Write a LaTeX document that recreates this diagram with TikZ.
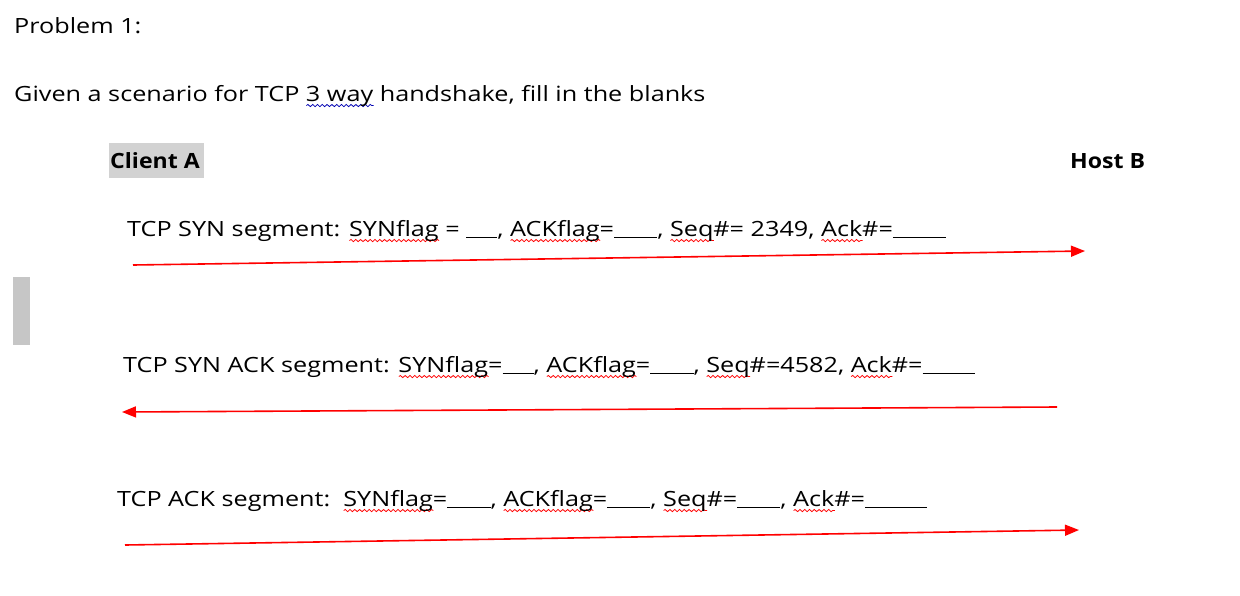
\documentclass[tikz,border=0pt]{standalone}
\usepackage{fontspec}
\setmainfont{Open Sans}
\usetikzlibrary{arrows.meta,decorations.pathmorphing}
\tikzset{sqline/.style={line width=0.7pt,decorate,decoration={snake,amplitude=1.1pt,segment length=4pt}}}
\newsavebox\wordbox
\newcommand\sqw[2][red]{\sbox\wordbox{#2}\rlap{\raisebox{-6pt}{\tikz\draw[sqline,#1] (0pt,0pt)--(\wd\wordbox,0pt);}}\usebox\wordbox}
\newcommand\bl[1]{\rule[-2pt]{#1pt}{1pt}}
\begin{document}
\begin{tikzpicture}[x=1pt,y=-1pt,
  txt/.style={anchor=base west,inner sep=0pt,font=\fontsize{21}{24}\selectfont},
  arr/.style={red,line width=1.6pt,-{Triangle[length=14pt,width=11pt]}}]
\useasboundingbox (0,0) rectangle (1240,595);
\node[txt] (p1) at (14,33) {\scalebox{1.2}[1]{Problem 1:}};
\node[txt] (g) at (14,101) {\scalebox{1.2}[1]{Given a scenario for TCP \sqw[blue!70!black]{3 way} handshake, fill in the blanks}};
\fill[gray!35] (109,143) rectangle (204,178);
\node[txt,font=\fontsize{21}{24}\selectfont\bfseries] (ca) at (110,168) {\scalebox{1.1}[1]{Client A}};
\node[txt,font=\fontsize{21}{24}\selectfont\bfseries] (hb) at (1070,168) {\scalebox{1.1}[1]{Host B}};
\fill[gray!45] (13,277) rectangle (30,345);
\node[txt] (l1) at (127,236) {\scalebox{1.2}[1]{TCP SYN segment: \sqw{SYNflag} = \bl{26}, \sqw{ACKflag}=\bl{36}, \sqw{Seq}\#= 2349, \sqw{Ack}\#=\bl{44}}};
\node[txt] (l2) at (123,372) {\scalebox{1.2}[1]{TCP SYN ACK segment: \sqw{SYNflag}=\bl{26}, \sqw{ACKflag}=\bl{36}, \sqw{Seq}\#=4582, \sqw{Ack}\#=\bl{44}}};
\node[txt] (l3) at (117,506) {\scalebox{1.2}[1]{TCP ACK segment:\ \ \sqw{SYNflag}=\bl{36}, \sqw{ACKflag}=\bl{36}, \sqw{Seq}\#=\bl{36}, \sqw{Ack}\#=\bl{52}}};
\coordinate (a1s) at (133,265); \coordinate (a1e) at (1085,251);
\coordinate (a2s) at (1057,407); \coordinate (a2e) at (122,412);
\coordinate (a3s) at (125,545); \coordinate (a3e) at (1079,530);
\draw[arr] (a1s) -- (a1e);
\draw[arr] (a2s) -- (a2e);
\draw[arr] (a3s) -- (a3e);
\end{tikzpicture}
\end{document}
